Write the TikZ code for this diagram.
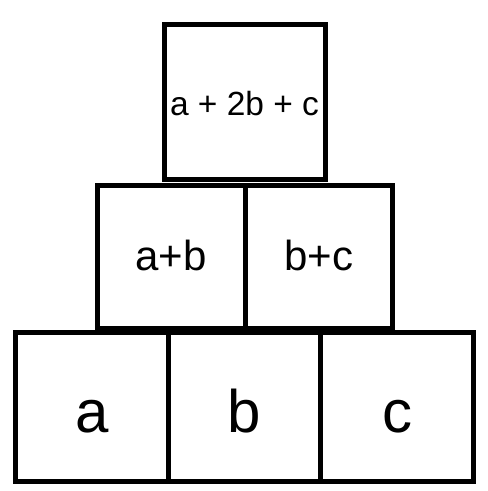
\documentclass[tikz,border=0pt]{standalone}
\usepackage{fontspec}
\setmainfont{Liberation Sans}
\begin{document}
\begin{tikzpicture}[x = 1pt, y = -1pt,
  brick/.style = {draw, line width = 5pt, inner sep = 0pt, text depth = 0pt},
  bottom/.style = {brick, minimum width = 152.5pt, minimum height = 148.5pt, text height = 50.5pt, font = \fontsize{60}{70}\selectfont},
  middle/.style = {brick, minimum width = 147.5pt, minimum height = 143.5pt, text height = 26.5pt, font = \fontsize{42}{50}\selectfont},
  top/.style = {brick, minimum width = 161pt, minimum height = 155pt, text height = 27pt, font = \fontsize{33.5}{40}\selectfont}]
\useasboundingbox (0,0) rectangle (488,491);
\node[bottom] (A) at (92.05,406.75) {a};
\node[bottom] (B) at (244.55,406.75) {b};
\node[bottom] (C) at (397.05,406.75) {c};
\node[middle] (AB) at (171.25,256.75) {a+b};
\node[middle] (BC) at (318.75,256.75) {b+c};
\node[top] (ABC) at (244.5,101.5) {a + 2b + c};
\end{tikzpicture}
\end{document}
